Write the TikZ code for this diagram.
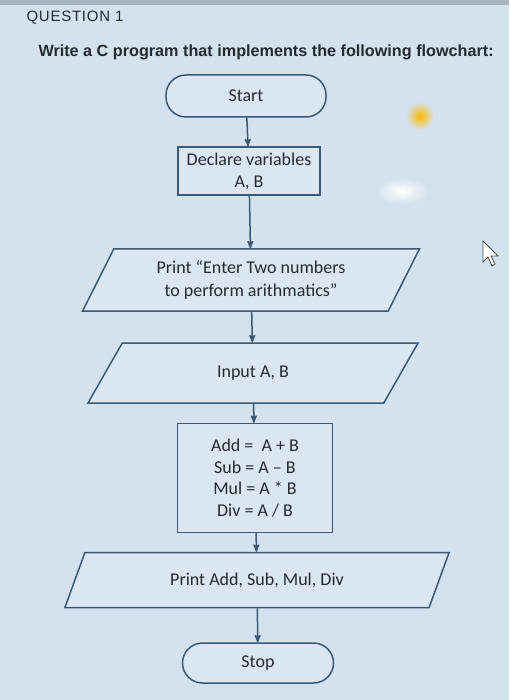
\documentclass[tikz,border=0pt]{standalone}
\usepackage{fontspec}
\setmainfont{Carlito}
\newfontfamily\headfont{Liberation Sans}
\newfontfamily\qfont[LetterSpace=5]{Liberation Sans}
\usetikzlibrary{arrows}
\usetikzlibrary{shapes.geometric}

\definecolor{screenbg}{HTML}{D3E2EE}
\definecolor{boxfill}{HTML}{DAE7F2}
\definecolor{edgeblue}{HTML}{3C5872}
\definecolor{inkgrey}{HTML}{262A30}

\begin{document}
\begin{tikzpicture}[x=1pt,y=-1pt,
  every node/.style={font=\fontsize{18}{22}\selectfont, text=inkgrey, align=center},
  term/.style={draw=edgeblue, line width=1.5pt, fill=boxfill, rounded corners=20pt, minimum width=160pt, minimum height=42pt},
  proc/.style={draw=edgeblue, line width=1.5pt, fill=boxfill},
  io/.style={draw=edgeblue, line width=1.5pt, fill=boxfill, trapezium, trapezium left angle=64, trapezium right angle=116, trapezium stretches=true},
  flow/.style={edgeblue, line width=1.5pt, ->, >=stealth'}]
% screen background
\fill[screenbg] (0,0) rectangle (509,700);
\fill[edgeblue!45] (0,0) rectangle (509,5);
\useasboundingbox (0,0) rectangle (509,700);
% header
\node[font=\qfont\fontsize{15}{17}\selectfont, anchor=west] (qtitle) at (23,18) {QUESTION 1};
\node[font=\headfont\bfseries\fontsize{16.2}{19}\selectfont, anchor=west] (task) at (35,52) {Write a C program that implements the following flowchart:};
% flowchart
\node[term] (start) at (246,96) {Start};
\node[proc, minimum width=142pt, minimum height=48pt, inner sep=1pt] (decl) at (249,171) {Declare variables\\A, B};
\node[io, minimum width=337pt, minimum height=62pt, font=\fontsize{18}{23}\selectfont] (prompt) at (251,280) {Print ``Enter Two numbers\\to perform arithmatics''};
\node[io, minimum width=333pt, minimum height=60pt] (input) at (253,373) {Input A, B};
\node[proc, minimum width=155pt, minimum height=109pt, font=\fontsize{18}{21.5}\selectfont] (calc) at (255,478) {Add =\ \ A + B\\Sub = A -- B\\Mul = A * B\\Div = A / B};
\node[io, minimum width=385pt, minimum height=55pt] (output) at (257,580) {Print Add, Sub, Mul, Div};
\node[term, minimum width=151pt, minimum height=40pt] (stop) at (258,663) {Stop};
\draw[flow] (start) -- (decl);
\draw[flow] (decl) -- (prompt);
\draw[flow] (prompt) -- (input);
\draw[flow] (input) -- (calc);
\draw[flow] (calc) -- (output);
\draw[flow] (output) -- (stop);
% glare and cursor
\shade[inner color=orange!55!yellow, outer color=screenbg] (420,116) circle (14);
\shade[inner color=white, outer color=screenbg] (402,191) ellipse (26 and 13);
\draw[black!70, fill=white, line width=0.8pt] (483,241) -- (483,262) -- (488,257) -- (492,266) -- (495,264) -- (491,256) -- (498,256) -- cycle;
\end{tikzpicture}
\end{document}
